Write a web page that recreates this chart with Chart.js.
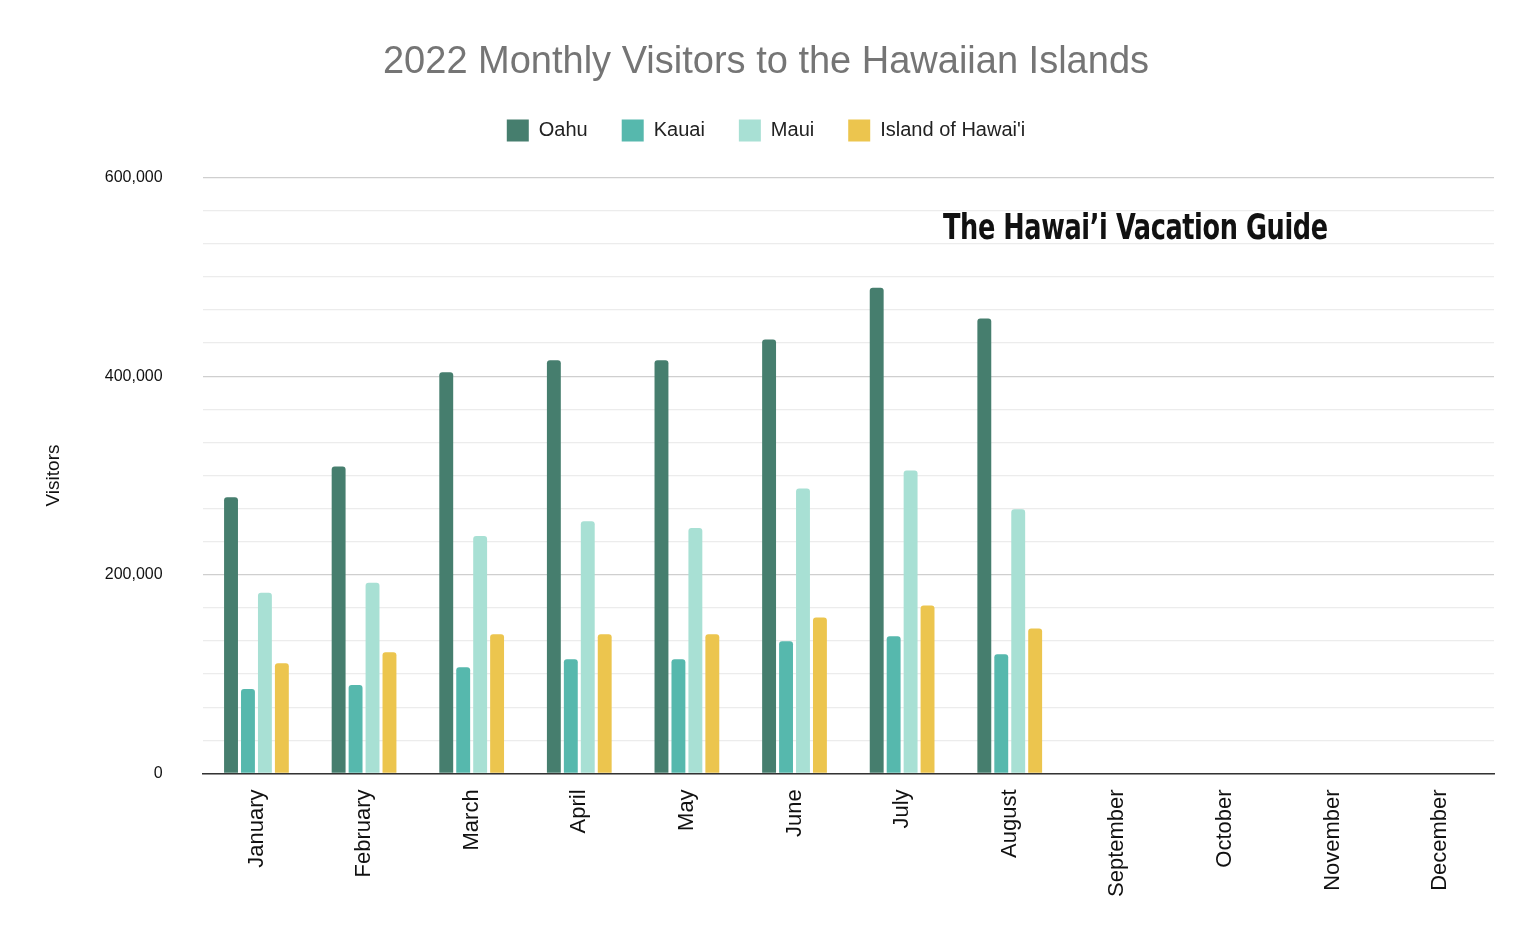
<!DOCTYPE html>
<html>
<head>
<meta charset="utf-8">
<script src="https://cdn.jsdelivr.net/npm/chart.js@4"></script>
<style>
  html, body { margin: 0; padding: 0; background: #fff; }
  #wrap { position: relative; width: 1536px; height: 935px; }
  #mark { position: absolute; left: 943px; top: 206px; font-family: "DejaVu Sans Condensed", "Liberation Sans Narrow", sans-serif; font-weight: bold; font-size: 36px; color: #111; letter-spacing: -0.5px; transform: scaleX(0.79); transform-origin: left top; white-space: nowrap; }
</style>
</head>
<body>
<div id="wrap">
  <canvas id="chart" width="1536" height="935"></canvas>
  <div id="mark">The Hawai’i Vacation Guide</div>
</div>
<script>
// Data
const months = ['January','February','March','April','May','June','July','August','September','October','November','December'];
const oahu   = [278000, 309000, 404000, 416000, 416000, 437000, 489000, 458000, null, null, null, null];
const kauai  = [85000, 89000, 107000, 115000, 115000, 133000, 138000, 120000, null, null, null, null];
const maui   = [182000, 192000, 239000, 254000, 247000, 287000, 305000, 266000, null, null, null, null];
const hawaii = [111000, 122000, 140000, 140000, 140000, 157000, 169000, 146000, null, null, null, null];

const seriesNames = ['Oahu', 'Kauai', 'Maui', "Island of Hawai'i"];
const seriesColors = ['#467e6e', '#56b8ad', '#a8e0d4', '#ecc54e'];
const seriesData = [oahu, kauai, maui, hawaii];

const ctx = document.getElementById('chart').getContext('2d');
Chart.defaults.font.family = 'Arial, "Liberation Sans", sans-serif';
Chart.defaults.animation = false;

// extra space under the legend
const legendGap = {
  id: 'legendGap',
  beforeInit(chart) {
    const fit = chart.legend.fit;
    chart.legend.fit = function () { fit.bind(chart.legend)(); this.height += 26; };
  }
};

new Chart(ctx, {
  type: 'bar',
  data: {
    labels: months,
    datasets: seriesData.map((d, i) => ({
      label: seriesNames[i],
      data: d,
      backgroundColor: seriesColors[i],
      borderRadius: { topLeft: 3, topRight: 3 },
      borderSkipped: 'bottom',
      categoryPercentage: 0.63,
      barPercentage: 0.82
    }))
  },
  plugins: [legendGap],
  options: {
    responsive: false,
    layout: { padding: { left: 38, right: 42, top: 14, bottom: 30 } },
    plugins: {
      title: {
        display: true,
        text: '2022 Monthly Visitors to the Hawaiian Islands',
        color: '#757575',
        font: { size: 38, weight: 'normal' },
        padding: { top: 26, bottom: 0 }
      },
      legend: {
        position: 'top',
        labels: { color: '#222', font: { size: 20 }, boxWidth: 22, boxHeight: 22, padding: 34 }
      },
      tooltip: { enabled: false }
    },
    scales: {
      x: {
        grid: { display: false },
        border: { color: '#333', width: 1.5 },
        ticks: { color: '#111', font: { size: 22 }, maxRotation: 90, minRotation: 90, padding: 8 }
      },
      y: {
        min: 0, max: 600000,
        border: { display: false },
        title: { display: true, text: 'Visitors', color: '#111', font: { size: 19 }, padding: { bottom: 0 } },
        ticks: {
          stepSize: 100000 / 3,
          color: '#111',
          font: { size: 16 },
          padding: 40,
          autoSkip: false,
          callback: v => (Math.round(v) % 200000 === 0 ? Math.round(v).toLocaleString('en-US') : '')
        },
        grid: {
          drawTicks: false,
          color: c => (Math.round(c.tick.value) % 200000 === 0 ? '#cfcfcf' : '#ececec'),
          lineWidth: 1.2
        }
      }
    }
  }
});
</script>
</body>
</html>
